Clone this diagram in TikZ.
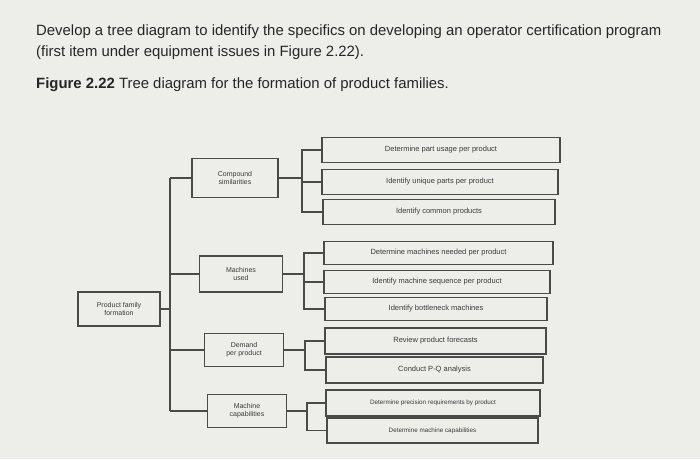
\documentclass[tikz,border=0pt]{standalone}
\usepackage{fontspec}
\setmainfont{Liberation Sans}
\definecolor{bg}{HTML}{EDEDEA}
\definecolor{ln}{HTML}{4A4A48}
\definecolor{tx}{HTML}{3A3A3A}
\begin{document}
\begin{tikzpicture}[x=1pt,y=-1pt,
  bx/.style={draw=ln,line width=1.1pt,inner sep=0pt,text=tx,font=\fontsize{7}{8}\selectfont,align=center},
  ln/.style={draw=ln,line width=1.1pt}]
\fill[bg] (0,0) rectangle (700,459);
\useasboundingbox (0,0) rectangle (700,459);
\tikzset{hd/.style={anchor=west,font=\fontsize{14.9}{17}\selectfont,text=black!85,inner sep=0pt}}
\node[hd] (h1) at (36,32) {Develop a tree diagram to identify the specifics on developing an operator certification program};
\node[hd] (h2) at (36,53) {(first item under equipment issues in Figure 2.22).};
\node[hd] (h3) at (36,85) {\textbf{Figure 2.22} Tree diagram for the formation of product families.};
% root and mid
\node[bx,minimum width=82pt,minimum height=34pt] (r) at (119,309) {Product family\\formation};
\node[bx,minimum width=86pt,minimum height=39pt] (m1) at (235,178) {Compound\\similarities};
\node[bx,minimum width=83pt,minimum height=36pt] (m2) at (241,274) {Machines\\used};
\node[bx,minimum width=79pt,minimum height=33pt] (m3) at (244,350) {Demand\\per product};
\node[bx,minimum width=79pt,minimum height=33pt] (m4) at (247,411) {Machine\\capabilities};
% leaves
\tikzset{lf/.style={bx,minimum height=25pt,font=\fontsize{7.5}{8}\selectfont}}
\node[lf,minimum width=238pt] (l1) at (441,150) {Determine part usage per product};
\node[lf,minimum width=236pt] (l2) at (440,182) {Identify unique parts per product};
\node[lf,minimum width=232pt] (l3) at (439,212) {Identify common products};
\node[lf,minimum width=229pt,minimum height=23pt] (l4) at (438.5,253) {Determine machines needed per product};
\node[lf,minimum width=226pt,minimum height=23pt] (l5) at (437,282) {Identify machine sequence per product};
\node[lf,minimum width=222pt,minimum height=23pt] (l6) at (436,309) {Identify bottleneck machines};
\node[lf,minimum width=221pt,minimum height=26pt] (l7) at (435.5,341) {Review product forecasts};
\node[lf,minimum width=217pt,minimum height=26pt] (l8) at (434.5,370) {Conduct P-Q analysis};
\node[lf,minimum width=214pt,minimum height=26pt,font=\fontsize{6.3}{7}\selectfont] (l9) at (433,403) {Determine precision requirements by product};
\node[lf,minimum width=211pt,font=\fontsize{6.3}{7}\selectfont] (l10) at (432.5,430.5) {Determine machine capabilities};
% connectors
\coordinate (t) at (170,0);
\draw[ln] (r.east) -- (r.east -| t);
\draw[ln] (m1.west -| t) -- (m4.west -| t);
\foreach \m in {m1,m2,m3,m4} \draw[ln] (\m.west -| t) -- (\m.west);
\foreach \m/\x/\a/\b in {m1/302/l1/l3, m2/304/l4/l6, m3/305/l7/l8, m4/307/l9/l10}{
  \coordinate (v) at (\x,0);
  \draw[ln] (\m.east) -- (\m.east -| v);
  \draw[ln] (\a.west) -- (\a.west -| v) -- (\b.west -| v) -- (\b.west);
}
\draw[ln] (302,182) -- (l2.west);
\draw[ln] (304,282) -- (l5.west);
\end{tikzpicture}
\end{document}
